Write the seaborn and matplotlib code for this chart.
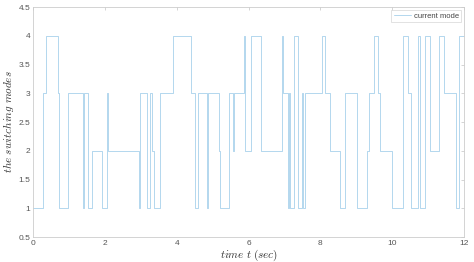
import matplotlib
matplotlib.use("Agg")
import matplotlib.pyplot as plt
import seaborn as sns
import pandas as pd

# switching instants (sec) and the mode entered at each instant
switch_times = [0.00, 0.29, 0.37, 0.69, 0.72, 0.97, 1.39, 1.43, 1.53, 1.64,
                1.91, 2.06, 2.10, 2.94, 2.99, 3.18, 3.27, 3.30, 3.37, 3.54,
                3.90, 4.40, 4.51, 4.60, 4.84, 4.86, 5.17, 5.22, 5.45, 5.56,
                5.60, 5.88, 5.90, 6.07, 6.36, 6.93, 6.97, 7.11, 7.13, 7.15,
                7.26, 7.37, 7.48, 7.52, 7.57, 8.05, 8.14, 8.27, 8.56, 8.69,
                9.01, 9.31, 9.36, 9.50, 9.61, 9.66, 10.00, 10.31, 10.45, 10.51,
                10.72, 10.77, 10.91, 11.06, 11.30, 11.45, 11.77, 11.87, 12.00]
modes = [1, 3, 4, 3, 1, 3, 1, 3, 1, 2,
         1, 3, 2, 1, 3, 1, 3, 2, 1, 3,
         4, 3, 1, 3, 1, 3, 2, 1, 3, 2,
         3, 4, 2, 4, 2, 4, 3, 1, 3, 1,
         4, 1, 3, 1, 3, 4, 3, 2, 1, 3,
         1, 2, 3, 4, 3, 2, 1, 4, 3, 1,
         4, 1, 4, 2, 4, 3, 1, 4, 4]

x_ticks = [0, 2, 4, 6, 8, 10, 12]
y_ticks = [0.5, 1, 1.5, 2, 2.5, 3, 3.5, 4, 4.5]
y_tick_labels = ["0.5", "1", "1.5", "2", "2.5", "3", "3.5", "4", "4.5"]
series_label = "current mode"

sns.set_theme(style="white")
plt.rcParams["font.family"] = ["Liberation Sans", "DejaVu Sans"]
plt.rcParams["mathtext.fontset"] = "cm"

df = pd.DataFrame({"t": switch_times, "mode": modes})

fig = plt.figure(figsize=(4.74, 2.62), dpi=100)
ax = fig.add_axes([0.0696, 0.0954, 0.9094, 0.8778])

sns.lineplot(data=df, x="t", y="mode", ax=ax, drawstyle="steps-post",
             estimator=None, sort=False, color="#b3d7ee", linewidth=0.7,
             label=series_label)

ax.set_xlim(0, 12)
ax.set_ylim(0.5, 4.5)
ax.set_xticks(x_ticks)
ax.set_xticklabels([str(v) for v in x_ticks])
ax.set_yticks(y_ticks)
ax.set_yticklabels(y_tick_labels)

ax.tick_params(axis="both", which="both", direction="in", length=2.5,
               width=0.5, color="#c4c4c4", labelsize=6, labelcolor="#555555",
               top=True, right=True, pad=2)
for s in ax.spines.values():
    s.set_color("#cccccc")
    s.set_linewidth(0.6)

ax.set_xlabel(r"$time\ t\ (sec)$", fontsize=8, color="#333333", labelpad=1)
ax.set_ylabel(r"$the\ switching\ modes$", fontsize=8, color="#333333", labelpad=2)

leg = ax.legend(loc="upper right", fontsize=5.5, frameon=True, fancybox=False,
                handlelength=2.2, borderpad=0.3, borderaxespad=0.4,
                handletextpad=0.4)
leg.get_frame().set_edgecolor("#cccccc")
leg.get_frame().set_linewidth(0.5)
for t in leg.get_texts():
    t.set_color("#444444")

fig.savefig("out.png", dpi=100)
